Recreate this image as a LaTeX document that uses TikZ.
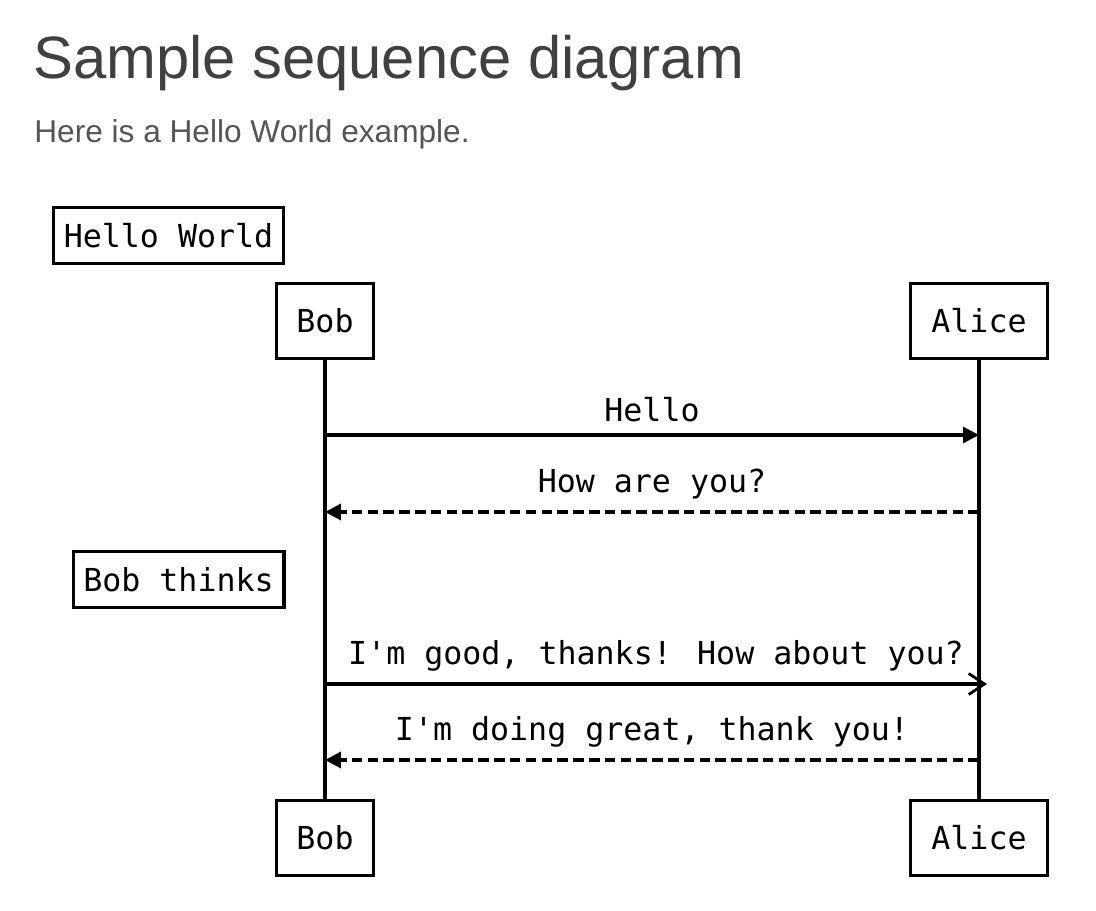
\documentclass[tikz,border=0pt]{standalone}
\usepackage{fontspec}
\setmainfont{Liberation Sans}
\newfontfamily\monofont{DejaVu Sans Mono}
\usetikzlibrary{arrows.meta}
\definecolor{titlegray}{HTML}{404040}
\definecolor{subgray}{HTML}{555555}
\tikzset{
  actor/.style={draw,line width=1.8pt,font=\monofont\fontsize{18}{18}\selectfont,minimum height=43pt,inner xsep=8pt},
  note/.style={draw,line width=1.8pt,font=\monofont\fontsize{18}{18}\selectfont,minimum height=32pt,inner xsep=4pt},
  msg/.style={line width=1.8pt},
  lbl/.style={font=\monofont\fontsize{18}{18}\selectfont,anchor=base}
}
\begin{document}
\begin{tikzpicture}[x=0.02cm,y=-0.02cm]
\useasboundingbox (0,0) rectangle (1096,910);

\node[anchor=base west,inner sep=0pt,text=titlegray,font=\fontsize{34}{34}\selectfont] (title) at (33,78) {Sample sequence diagram};
\node[anchor=base west,inner sep=0pt,text=subgray,font=\fontsize{18}{18}\selectfont] (sub) at (34,142) {Here is a Hello World example.};

\node[note,minimum width=131pt] (N1) at (168.5,235.5) {Hello World};
\node[actor,minimum width=55pt] (B1) at (325,321) {Bob};
\node[actor,minimum width=78pt] (A1) at (979,321) {Alice};
\node[actor,minimum width=55pt] (B2) at (325,838) {Bob};
\node[actor,minimum width=78pt] (A2) at (979,838) {Alice};
\node[note,minimum width=120pt] (N2) at (178.5,579.5) {Bob thinks};

\draw[line width=1.8pt] (B1) -- (B2);
\draw[line width=1.8pt] (A1) -- (A2);

\coordinate (h1) at (325,435); \coordinate (h2) at (979,435);
\coordinate (q1) at (325,512); \coordinate (q2) at (979,512);
\coordinate (g1) at (325,684); \coordinate (g2) at (987,684);
\coordinate (d1) at (325,760); \coordinate (d2) at (979,760);

\draw[msg,-{Triangle[length=9pt,width=9pt]}] (h1) -- (h2) node[lbl,midway,above=3pt] {Hello};
\draw[msg,dash pattern=on 6pt off 3pt,-{Triangle[length=9pt,width=9pt]}] (q2) -- (q1) node[lbl,midway,above=3pt] {How are you?};
\draw[msg,-{Straight Barb[length=9pt,width=12pt,line width=1.6pt]}] (g1) -- (g2) node[lbl,midway,above=3pt] {I'm good, thanks! How about you?};
\draw[msg,dash pattern=on 6pt off 3pt,-{Triangle[length=9pt,width=9pt]}] (d2) -- (d1) node[lbl,midway,above=3pt] {I'm doing great, thank you!};
\end{tikzpicture}
\end{document}
